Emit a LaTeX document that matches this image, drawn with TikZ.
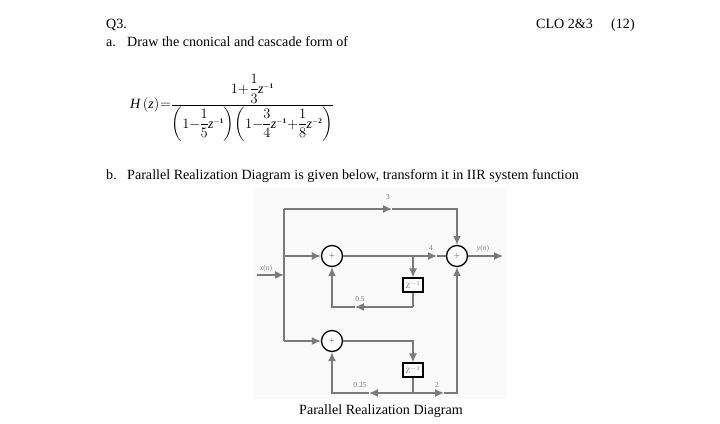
\documentclass[tikz,border=0pt]{standalone}
\usepackage{amsmath}
\usepackage{fontspec}
\setmainfont{Liberation Serif}
\usetikzlibrary{arrows.meta}
\definecolor{sigcol}{gray}{0.48}
\tikzset{
    txt/.style={anchor=base west,inner sep=0pt,font=\fontsize{14.1}{16}\selectfont},
    lbl/.style={inner sep=0pt,text=sigcol,font=\fontsize{7.5}{8}\selectfont},
    sig/.style={draw=sigcol,line width=1.4pt},
    flow/.style={sig,-{Latex[length=9pt,width=8pt]}},
    adder/.style={draw=black,circle,line width=1.3pt,fill=white,minimum size=21pt,inner sep=0pt,text=sigcol,font=\fontsize{11}{11}\selectfont},
    delay/.style={draw=black,line width=1.2pt,fill=white,minimum width=20pt,minimum height=14pt,inner sep=0pt,text=sigcol,font=\fontsize{8}{9}\selectfont}
}
\newcommand{\zvar}[1]{\mkern0.5mu\textit{z}^{\scriptscriptstyle\mathbf{#1}}}
\newcommand{\tfr}[2]{\dfrac{#1}{#2}}
\begin{document}
\begin{tikzpicture}[x=1pt,y=-1pt]
    \useasboundingbox (0,0) rectangle (720,423);
    \fill[black!2] (254,188) rectangle (507,399);

    \node[txt] (qno) at (106,28) {Q3.};
    \node[txt] (clo) at (536,28) {CLO 2\&3};
    \node[txt] (marks) at (611,28) {(12)};
    \node[txt] (parta) at (106,46) {a.};
    \node[txt] (partatext) at (127,46) {Draw the cnonical and cascade form of};
    \node[txt] (partb) at (106,179) {b.};
    \node[txt] (partbtext) at (127,179) {Parallel Realization Diagram is given below, transform it in IIR system function};
    \node[txt,anchor=base] (caption) at (381,414) {Parallel Realization Diagram};

    \node[txt,anchor=west] (hz) at (130,108) {\thinmuskip=0mu\medmuskip=0mu\thickmuskip=0mu\nulldelimiterspace=0pt
        $\textit{H}\mkern3mu(\textit{z})\mkern1mu{=}\mkern1mu
        \dfrac{1+\mkern2mu\tfr{1}{3}\zvar{-1}}
        {\left(1-\tfr{1}{5}\zvar{-1}\right)\!\left(1-\tfr{3}{4}\zvar{-1}\mkern1mu{+}\mkern1mu\tfr{1}{8}\zvar{-2}\right)}$};

    % blocks
    \node[adder] (add1) at (332,256) {+};
    \node[adder] (add2) at (332,341) {+};
    \node[adder] (addout) at (457,256) {+};
    \node[delay] (z1) at (413,285) {Z$^{-1}$};
    \node[delay] (z2) at (413,370) {Z$^{-1}$};

    % points on the lines
    \coordinate (in) at (257,275);
    \coordinate (injoin) at (284,275);
    \coordinate (topleft) at (284,209);
    \coordinate (topmid) at (392,209);
    \coordinate (split1) at (284,256);
    \coordinate (split2) at (284,341);
    \coordinate (mid4) at (437,256);
    \coordinate (tap1) at (413,256);
    \coordinate (fb1r) at (413,307);
    \coordinate (fb1m) at (355,307);
    \coordinate (fb2m) at (369,393);
    \coordinate (fb2c) at (413,393);
    \coordinate (fb2g) at (444,393);
    \coordinate (out) at (503,256);

    \draw[flow] (in) -- (injoin);
    \draw[sig] (split2) -- (topleft);
    \draw[flow] (topleft) -- (topmid);
    \draw[flow] (topmid) -| (addout);
    \draw[flow] (split1) -- (add1);
    \draw[flow] (add1) -- (mid4);
    \draw[sig] (mid4) -- (addout);
    \draw[flow] (tap1) -- (z1);
    \draw[sig] (z1) -- (fb1r);
    \draw[flow] (fb1r) -- (fb1m);
    \draw[flow] (fb1m) -| (add1);
    \draw[flow] (split2) -- (add2);
    \draw[flow] (add2) -| (z2);
    \draw[sig] (z2) -- (fb2c);
    \draw[flow] (fb2c) -- (fb2m);
    \draw[flow] (fb2m) -| (add2);
    \draw[flow] (fb2c) -- (fb2g);
    \draw[flow] (fb2g) -| (addout);
    \draw[flow] (addout) -- (out);

    \node[lbl] (g3) at (388,197) {3};
    \node[lbl] (g4) at (431,248) {4};
    \node[lbl] (yn) at (483,249) {\textit{y}(\textit{n})};
    \node[lbl] (xn) at (266,269) {\textit{x}(\textit{n})};
    \node[lbl] (g05) at (360,299) {0.5};
    \node[lbl] (g025) at (360,385) {0.25};
    \node[lbl] (g2) at (437,385) {2};
\end{tikzpicture}
\end{document}
